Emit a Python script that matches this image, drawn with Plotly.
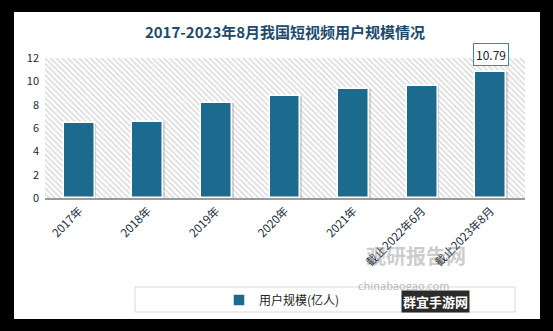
import plotly.graph_objects as go

categories = ["2017年", "2018年", "2019年", "2020年", "2021年", "截止2022年6月", "截止2023年8月"]
users = [6.46, 6.48, 8.18, 8.73, 9.34, 9.62, 10.79]
series_name = "用户规模(亿人)"
title_text = "2017-2023年8月我国短视频用户规模情况"
y_ticks = [0, 2, 4, 6, 8, 10, 12]

W, H = 553, 331
L, R, T, B = 45, 28, 58, 133
PW, PH = W - L - R, H - T - B


def px_x(x):
    return (x - L) / PW


def px_y(y):
    return (H - B - y) / PH


fig = go.Figure()

# hatched plot background
fig.add_trace(go.Bar(
    x=categories, y=[12] * len(categories), width=1.0,
    marker=dict(color="white", line=dict(width=0),
                pattern=dict(shape="\\", fgcolor="#b8b8b8", bgcolor="white", size=4, solidity=0.4)),
    showlegend=False, hoverinfo="skip"))

# shadow
fig.add_trace(go.Bar(
    x=categories, y=users, width=0.46, offset=-0.21,
    marker=dict(color="rgba(150,150,150,0.35)", line=dict(width=0)),
    showlegend=False, hoverinfo="skip"))

fig.add_trace(go.Bar(
    x=categories, y=users, width=0.45, name=series_name,
    marker=dict(color="#1c6a8d", line=dict(color="white", width=1.5)),
    showlegend=True))

fig.update_layout(
    width=W, height=H,
    margin=dict(l=L, r=R, t=T, b=B),
    paper_bgcolor="black",
    plot_bgcolor="white",
    barmode="overlay",
    bargap=0,
    font=dict(family="Noto Sans CJK SC, Noto Sans, sans-serif", color="#222222"),
    title=dict(text="<b>" + title_text + "</b>", x=0.5, xanchor="center", xref="paper",
               y=1 - 33 / H, yanchor="middle", yref="container",
               font=dict(size=15, color="#1d4a6c", family="Noto Sans CJK SC")),
    showlegend=True,
    legend=dict(orientation="h", x=px_x(282), xanchor="center",
                y=px_y(300), yanchor="middle",
                bgcolor="rgba(0,0,0,0)", font=dict(size=12, color="#222222"),
                itemwidth=30),
    xaxis=dict(type="category", tickangle=-45, showgrid=False, showline=True,
               linecolor="#9a9a9a", linewidth=1.5, ticks="",
               tickfont=dict(size=11.5, color="#1a2a3a", family="Noto Sans CJK SC"),
               range=[-0.5, len(categories) - 0.5]),
    yaxis=dict(range=[0, 12], tickvals=y_ticks, showgrid=False, zeroline=False,
               showline=False, ticks="", tickfont=dict(size=11, color="#1a2a3a"),
               ticklabelstandoff=5),
)

# white panel
fig.add_shape(type="rect", xref="paper", yref="paper", layer="below",
              x0=px_x(14), x1=px_x(540), y0=px_y(319), y1=px_y(12),
              fillcolor="white", line=dict(width=0))

# legend box
fig.add_shape(type="rect", xref="paper", yref="paper",
              x0=px_x(135), x1=px_x(515), y0=px_y(312), y1=px_y(287),
              fillcolor="rgba(0,0,0,0)", line=dict(color="#d9d9d9", width=1))

# value label for last bar
fig.add_annotation(x=categories[-1], y=users[-1], text=f"{users[-1]:.2f}",
                   showarrow=False, yanchor="bottom", yshift=6,
                   font=dict(size=12, color="#222222"),
                   bgcolor="white", bordercolor="#3a87a8", borderwidth=1, borderpad=2)

# watermarks
fig.add_annotation(xref="paper", yref="paper", x=px_x(468), y=px_y(272),
                   text="<b>观研报告网</b>", showarrow=False,
                   font=dict(size=20, color="rgba(140,140,140,0.45)"))
fig.add_annotation(xref="paper", yref="paper", x=px_x(452), y=px_y(295),
                   text="chinabaogao.com", showarrow=False,
                   font=dict(size=11, color="rgba(140,140,140,0.6)"))
fig.add_annotation(xref="paper", yref="paper", x=px_x(470), y=px_y(313),
                   text="<b>群宜手游网</b>", showarrow=False,
                   font=dict(size=13, color="white"),
                   bgcolor="rgba(20,20,20,0.9)", borderpad=1)

fig.write_html("out.html")
